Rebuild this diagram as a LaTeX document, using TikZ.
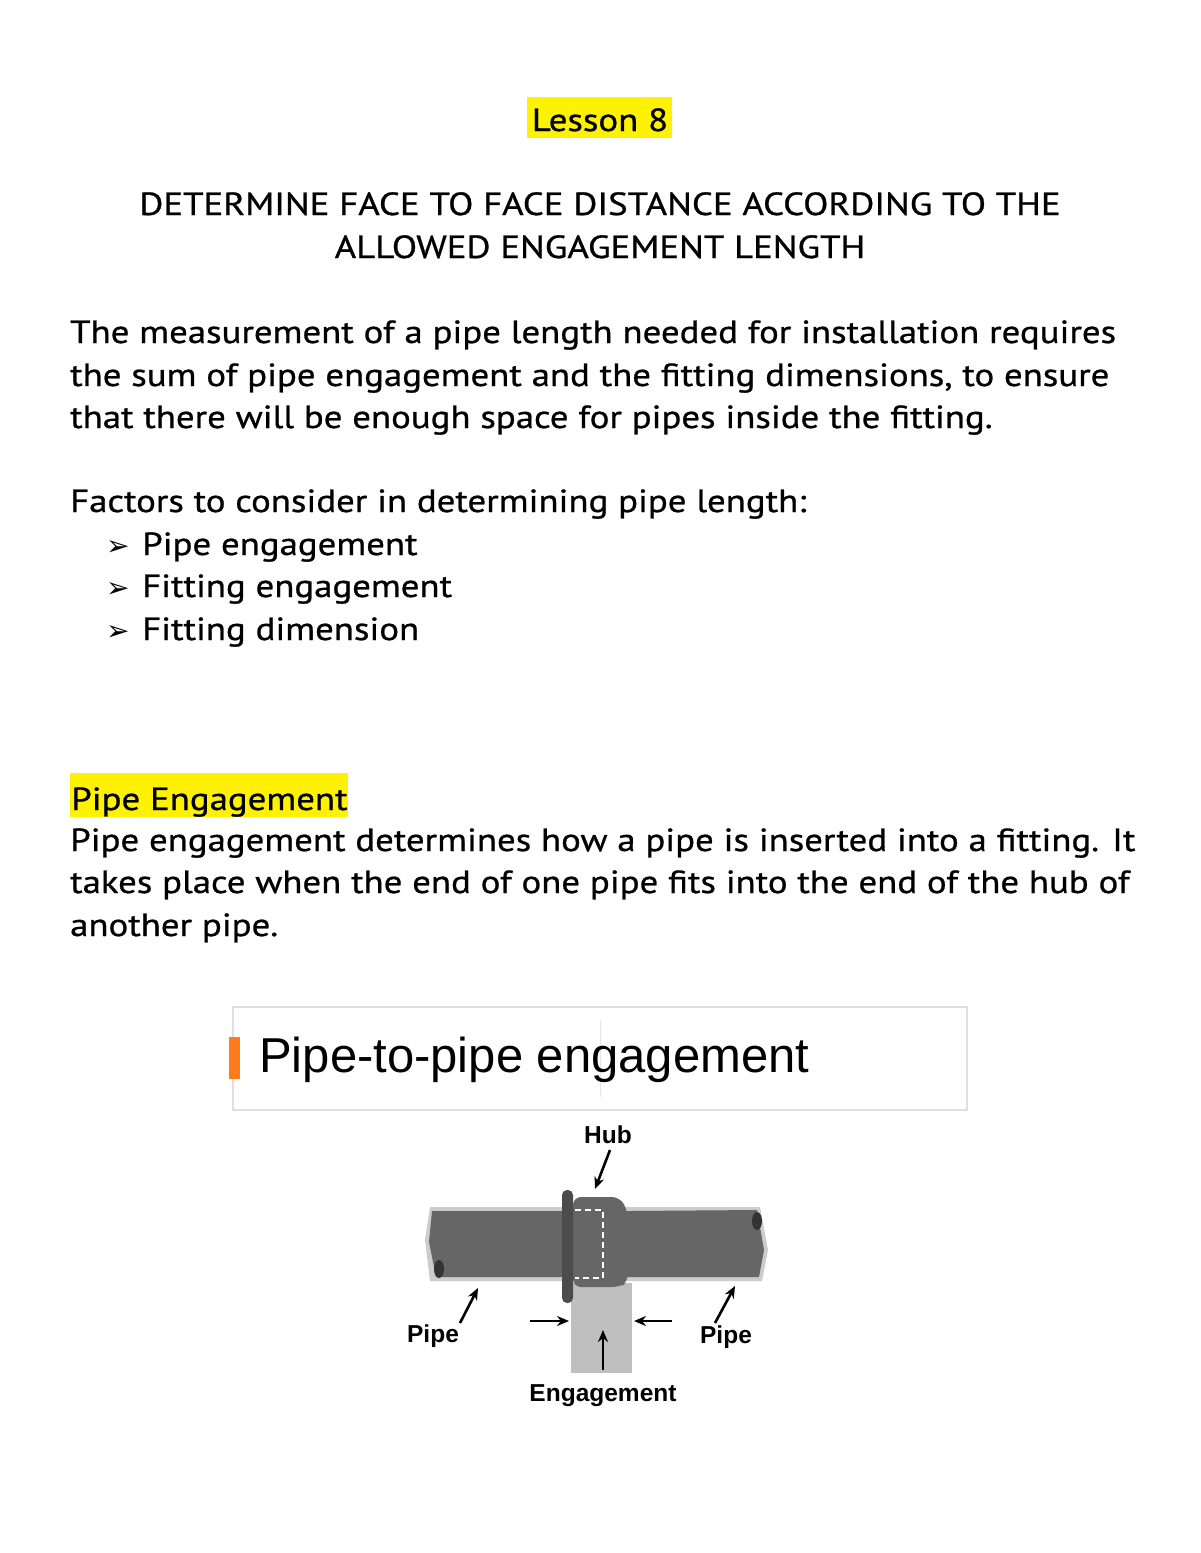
\documentclass[tikz,border=0pt]{standalone}
\usepackage{fontspec}
\setmainfont{PT Sans}[FakeStretch=1.15,FakeBold=0.8]
\newfontfamily\dejavu{DejaVu Sans}
\newfontfamily\arialf{Liberation Sans}
\usetikzlibrary{arrows.meta}
\begin{document}
\begin{tikzpicture}[x=1pt,y=-1pt,
  txt/.style={anchor=base west,inner sep=0pt,font=\fontsize{32}{36}\selectfont},
  ctr/.style={anchor=base,inner sep=0pt,font=\fontsize{32}{36}\selectfont},
  lab/.style={inner sep=0pt,font=\arialf\bfseries\fontsize{24.5}{28}\selectfont},
  arr/.style={-{Stealth[length=12pt,width=10pt]},line width=2.6pt}]
\useasboundingbox[fill=white] (0,0) rectangle (1200,1553);
\fill[yellow] (527,97) rectangle (672,138);
\node[ctr] (l8) at (600,131) {Lesson 8};
\node[ctr] (h1) at (600,215) {DETERMINE FACE TO FACE DISTANCE ACCORDING TO THE};
\node[ctr] (h2) at (600,258) {ALLOWED ENGAGEMENT LENGTH};
\node[txt] (p1) at (70,343) {The measurement of a pipe length needed for installation requires};
\node[txt] (p2) at (70,386) {the sum of pipe engagement and the fitting dimensions, to ensure};
\node[txt] (p3) at (70,428) {that there will be enough space for pipes inside the fitting.};
\node[txt] (f0) at (70,512) {Factors to consider in determining pipe length:};
\foreach \y/\t [count=\i] in {555/Pipe engagement,597/Fitting engagement,640/Fitting dimension}{
  \node[txt] (b\i) at (106,\y) {{\dejavu\fontsize{28}{30}\selectfont ➢}};
  \node[txt] (t\i) at (142,\y) {\t};}
\fill[yellow] (70,773) rectangle (348,817);
\node[txt] (pe) at (71,810) {Pipe Engagement};
\node[txt] (q1) at (70,851) {Pipe engagement determines how a pipe is inserted into a fitting. It};
\node[txt] (q2) at (70,893) {takes place when the end of one pipe fits into the end of the hub of};
\node[txt] (q3) at (70,936) {another pipe.};
% box
\draw[gray!25,line width=1.5pt] (233,1007) rectangle (967,1110);
\draw[gray!20,line width=0.8pt] (600,1020) -- (600,1097);
\fill[orange!85!red!90!white] (229,1037) rectangle (240,1079);
\node[anchor=base west,inner sep=0pt,font=\arialf\fontsize{49}{54}\selectfont] (bt) at (259,1072) {Pipe-to-pipe engagement};
% figure
\fill[gray!50] (571,1283) rectangle (632,1373);
\fill[gray!40] (430,1207) -- (760,1207) -- (768,1250) -- (762,1281) -- (430,1281) -- (425,1240) -- cycle;
\fill[black!60] (432,1211) -- (630,1211) -- (757,1210) -- (764,1250) -- (759,1277) -- (436,1277) -- (429,1242) -- cycle;
\fill[black!60,rounded corners=8pt] (573,1197) -- (620,1197) -- (628,1212) -- (628,1282) -- (620,1287) -- (573,1287) -- cycle;
\fill[black!80] (757,1221) ellipse (5pt and 9pt);
\fill[black!80] (439,1269) ellipse (5pt and 9pt);
\fill[black!70,rounded corners=5pt] (562,1190) rectangle (573,1303);
\draw[white,line width=1.5pt,dash pattern=on 6pt off 4pt] (575,1210) -- (603,1210) -- (603,1278) -- (575,1278);
\node[lab] (hub) at (608,1135) {Hub};
\coordinate (hubt) at (595,1189);
\draw[arr] (610,1150) -- (hubt);
\node[lab] (pl) at (433,1336) {Pipe};
\node[lab] (pr) at (726,1337) {Pipe};
\node[lab] (en) at (603,1396) {Engagement};
\coordinate (plt) at (478,1288);
\coordinate (prt) at (735,1286);
\draw[arr] (460,1323) -- (plt);
\draw[arr] (715,1323) -- (prt);
\coordinate (la) at (569,1321);
\coordinate (ra) at (634,1321);
\coordinate (ua) at (603,1330);
\draw[arr] (530,1321) -- (la);
\draw[arr] (672,1321) -- (ra);
\draw[arr] (603,1370) -- (ua);
\end{tikzpicture}
\end{document}
